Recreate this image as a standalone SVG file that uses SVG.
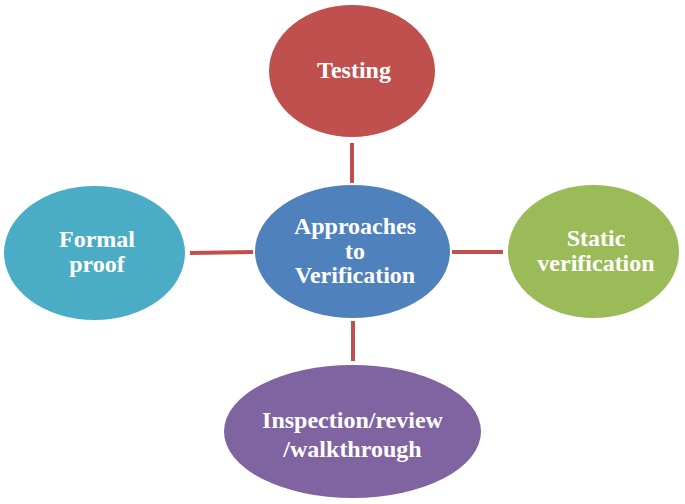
<svg xmlns="http://www.w3.org/2000/svg" width="685" height="504" viewBox="0 0 685 504">
<style>
.lbl{font-family:"Liberation Serif","Times New Roman",serif;font-weight:bold;font-size:24px;fill:#ffffff;text-anchor:middle}
.conn{stroke:#C0504D;stroke-width:4;fill:none}
</style>
<rect width="685" height="504" fill="#ffffff"/>
<g id="connectors">
<line class="conn" x1="352" y1="143" x2="352" y2="183"/>
<line class="conn" x1="190" y1="253" x2="253" y2="252"/>
<line class="conn" x1="452" y1="252" x2="503" y2="252"/>
<line class="conn" x1="353" y1="321" x2="353" y2="361"/>
</g>
<g id="testing">
<ellipse cx="352" cy="71" rx="83" ry="66" fill="#C0504D"/>
<text class="lbl" x="354" y="78">Testing</text>
</g>
<g id="center">
<ellipse cx="352.5" cy="251.5" rx="97.5" ry="66.5" fill="#4F81BD"/>
<text class="lbl" x="355" y="234">Approaches</text>
<text class="lbl" x="355" y="259">to</text>
<text class="lbl" x="355" y="283">Verification</text>
</g>
<g id="formal">
<ellipse cx="94.5" cy="253" rx="90.5" ry="67" fill="#4BACC6"/>
<text class="lbl" x="97" y="247">Formal</text>
<text class="lbl" x="97" y="272">proof</text>
</g>
<g id="static">
<ellipse cx="593.5" cy="251.5" rx="85.5" ry="66.5" fill="#9BBB59"/>
<text class="lbl" x="596" y="246">Static</text>
<text class="lbl" x="596" y="271">verification</text>
</g>
<g id="inspection">
<ellipse cx="352.5" cy="431.5" rx="128.5" ry="66.5" fill="#8064A2"/>
<text class="lbl" x="352.5" y="428">Inspection/review</text>
<text class="lbl" x="352.5" y="457">/walkthrough</text>
</g>
</svg>
